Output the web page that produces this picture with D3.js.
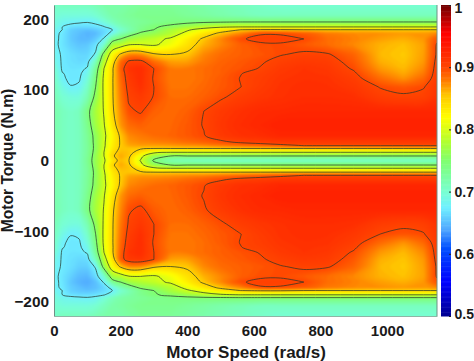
<!DOCTYPE html>
<html>
<head>
<meta charset="utf-8">
<script src="https://cdn.jsdelivr.net/npm/d3@7"></script>
<style>
body { margin: 0; background: white; }
text { font-family: "Liberation Sans", Arial, sans-serif; font-weight: bold; fill: #1a1a1a; }
</style>
</head>
<body>
<svg id="chart" width="474" height="361"></svg>
<script>
const speeds = [0,25,50,75,100,125,150,175,200,225,260,300,350,400,450,500,560,620,680,750,820,900,980,1050,1110,1150]
const torquesUpper = [220,205,196,189,185,180,172,164,150,140,130,123,116,104,90,70,50,35,26,21,17,11.6,6.4,0]
const torquesLower = [-6.4,-11,-16.5,-21,-26,-35,-50,-70,-90,-104,-116,-123,-130,-140,-150,-164,-172,-180,-184,-190,-194,-205,-220]

// efficiency in %, one row per torque
const effUpper = [
  [70.5,71,71,71,71,71.5,72,72,72,72.5,73,73,73,72.5,72,71.5,71,70.5,70,70,70,70,70,70,70,70],
  [70,69.5,69.5,69.5,69.5,70,71,72,72.5,73,73.5,73.5,73.5,73,72.5,72,71.5,71,71,71,71,71,71,71,71,71],
  [69.5,68.5,68,67.8,67.6,68,69.5,71,72,72.5,73,73.5,74,74.3,74.6,74.8,75,75,75,75,75,75,75,75,75,75],
  [69.5,67.5,66.8,66.5,66.5,66.8,67.3,69,71,72,73.5,74.7,75.7,77,78.5,79.5,80,80,80,80,80,80,80,80,80,80],
  [68.5,67.5,66,65.5,65.3,65.7,66.5,67.5,70,71.5,73.5,75,77.5,79.5,81.5,83.5,85,85.3,85.3,85,85,85,85,85,85,85],
  [68,67.2,65.8,65.2,64.6,65,66.3,68.3,71.3,73,75.5,76.3,78,81,83.5,85.5,87.5,89.8,89.8,89.2,88,87.5,87.3,87,87,87.5],
  [68,67.1,65.7,65,64.8,65.7,67.8,73,75,77,78,79,80.5,83,85.5,87.5,89.8,90.5,90.5,90,88.5,87.7,86.8,86.3,87,89.5],
  [68,67,66,65.4,65.6,66.8,69.8,77.3,78.2,79.8,80,79.5,81.3,83.8,86.2,87.5,89,89.7,89.8,89.3,88.5,87.5,86.2,85.7,86.7,90.2],
  [68.5,67.2,66.7,66.3,66.3,67.8,76.5,82,85.5,87.5,87.5,85.5,85,85.5,87.5,88.5,89,89.4,89.9,90.3,90.2,88.8,86,85.4,86.8,90.3],
  [69,67.2,66.8,66.5,66.8,71,78.5,83.5,88.5,90.3,90.5,88.5,86.8,86.8,88,88.8,89.3,89.8,90.5,91,90.8,89.3,86.3,85.6,87,90.6],
  [70,67.2,67,67,67.7,73,80,84.6,89,91.5,92,90,88,88,88.5,89,89.5,90.1,91,91.5,91.2,89.8,87,86,87.5,90.8],
  [70.5,67.6,67.1,67.1,68.5,73.7,80.4,84.6,88.8,91.2,92,89.9,88,88,88.5,89,89.95,90.5,91.2,91.6,91.4,90.3,87.7,86.5,88,90.9],
  [70.8,67.8,67.1,67.2,69.3,74.2,80.7,84.7,88.6,91,92,89.8,88,88,88.5,89.2,90.05,90.7,91.4,91.7,91.6,90.7,88.5,87.2,88.7,91],
  [71.2,69,67.6,67.9,70.4,75,80.7,84.7,88.3,90.7,91.7,90,88.2,88.2,88.7,89.3,89.97,90.9,91.6,91.9,91.8,91.2,89.9,89.4,89.9,91.2],
  [71.5,70,69.5,69.5,71.5,76,80.5,84.7,88,90.3,91,89.9,88.5,88.5,89,89.7,90.7,91.3,91.7,92,92,91.8,90.7,90.3,90.5,91.5],
  [72,71,70.5,71,74,77.5,80.2,84.5,87.5,89.7,90.2,89,88.5,89,90,91,91.7,92.2,92.3,92.5,92.5,92.5,92.5,92.5,92.5,92.5],
  [72,71,70.5,71,73.5,77,79.8,83.5,87,88.5,89,88.5,88.7,89.3,90.1,91.3,92,92.5,93,93,93,93,93,93,93,93],
  [72,71,70.5,71,73,76,79.3,82.5,85.5,87.5,88,88.5,88.8,89.3,89.9,91,91.7,92,92.5,92.5,92.5,92.5,92.5,92.5,92.5,92.5],
  [72,71,70.5,71,72.9,75.9,79.5,82.7,85.3,87,87.5,87.7,88,88.5,89,89.6,90.3,90.7,91,91,91,91,91,91,91,91],
  [72,71,70.5,71,72.8,75.8,79.5,83,85.3,86.5,86.8,86.8,87,87.3,87.5,88,88.5,89,89.5,90,90,90,90,90,90,90],
  [72,71,70.5,71,72.8,75.8,79.7,83.3,85.5,85.5,85.2,85,85,85,85,85,85,85,85,85,85,85,85,85,85,85],
  [72,71,70.5,71,72.9,76,80,84,86,85.7,84,80.8,80,80,80,80,80,80,80,80,80,80,80,80,80,80],
  [72,71,70.5,71,73,76.3,80,84.5,86.5,85.5,81,76.5,75,75,75,75,75,75,75,75,75,75,75,75,75,75],
  [72,71,70.5,71,73.2,76.5,79.5,83.5,86,85,79.8,74.5,71.5,70.8,70.5,70.3,70.3,70.3,70.3,70.3,70.3,70.3,70.3,70.3,70.3,70.3]
]

const effLower = [
  [72,71,70.5,71,73,76.3,80,84.5,86.5,85.5,81,76.5,75,75,75,75,75,75,75,75,75,75,75,75,75,75],
  [72,71,70.5,71,72.9,76,80,84,86,85.7,84,80.8,80,80,80,80,80,80,80,80,80,80,80,80,80,80],
  [72,71,70.5,71,72.8,75.8,79.7,83.3,85.5,85.5,85.2,85,85,85,85,85,85,85,85,85,85,85,85,85,85,85],
  [72,71,70.5,71,72.8,75.8,79.5,83,85.3,86.5,86.8,86.8,87,87.3,87.5,88,88.5,89,89.5,90,90,90,90,90,90,90],
  [72,71,70.5,71,72.9,75.9,79.5,82.7,85.3,87,87.5,87.7,88,88.5,89,89.6,90.3,90.7,91,91,91,91,91,91,91,91],
  [72,71,70.5,71,73,76,79.3,82.5,85.5,87.5,88,88.5,88.8,89.3,89.9,91,91.7,92,92.5,92.5,92.5,92.5,92.5,92.5,92.5,92.5],
  [72,71,70.5,71,73.5,77,79.8,83.5,87,88.5,89,88.5,88.7,89.3,90.1,91.3,92,92.5,93,93,93,93,93,93,93,93],
  [72,71,70.5,71,74,77.5,80.2,84.5,87.5,89.8,90.4,89.2,88.5,89,89.8,90.8,91.7,92.2,92.3,92.5,92.5,92.5,92.5,92.5,92.5,92.5],
  [71.5,70,69.5,69.5,71.5,76,80.5,84.7,88,90.3,91.2,90,88.5,88.5,89,89.7,90.7,91.3,91.7,92,92,91.8,90.8,90.4,90.6,91.5],
  [71.2,69,67.6,67.9,70.4,75,80.7,84.7,88.3,90.7,91.8,90,88.2,88.2,88.7,89.3,89.97,90.9,91.6,91.9,91.8,91.2,90,89.5,89.9,91.2],
  [70.8,67.8,67.1,67.2,69.3,74.2,80.7,84.7,88.6,91,92,89.8,88,88,88.5,89.2,90.05,90.7,91.4,91.7,91.6,90.7,88.6,87.2,88.7,91],
  [70.5,67.6,67.1,67.1,68.5,73.7,80.4,84.6,88.8,91.2,92,89.9,88,88,88.5,89,89.95,90.5,91.2,91.6,91.4,90.3,87.7,86.5,88,90.9],
  [70,67.2,67,67,67.7,73,80,84.6,89,91.5,92,90,88,88,88.5,89,89.5,90.1,91,91.5,91.2,89.8,87,86,87.5,90.8],
  [69,67.2,66.8,66.4,66.6,71,78.5,83.5,89.2,91,91.3,90,86.8,86.8,88,88.8,89.3,89.8,90.5,91,90.8,89.3,86.3,85.6,87,90.6],
  [68.5,67.2,66.7,66,66,67.8,76.5,82,85.5,87.5,87.5,85.5,85,85.5,87.5,88.5,89,89.4,89.9,90.3,90.2,88.8,86,85.4,86.8,90.3],
  [68,67,66,65,64.8,66.5,69.8,77.3,78.2,79.8,80,79.5,81.3,83.8,86.2,87.5,89,89.7,89.8,89.3,88.5,87.5,86.2,85.7,86.7,90.2],
  [68,67.1,65.6,64.6,64.2,65.2,67.8,73,75,77,78,79,80.5,83,85.5,87.5,89.8,90.5,90.5,90,88.5,87.7,86.8,86.3,87,89.5],
  [68,67.2,65.9,65.3,64.8,65.2,66.3,68.3,71.3,73,75.5,76.3,78,81,83.5,85.5,87.5,89.8,89.8,89.2,88,87.5,87.3,87,87,87.5],
  [68.5,67.5,66,65.5,65.3,65.7,66.5,67.5,70,71.5,73.5,75,77.5,79.5,81.5,83.5,85,85.3,85.3,85,85,85,85,85,85,85],
  [69.5,67.5,66.8,66.5,66.5,66.8,67.3,69,71,72,73.5,74.7,75.7,77,78.5,79.5,80,80,80,80,80,80,80,80,80,80],
  [69.5,68.5,68,67.8,67.6,68,69.5,71,72,72.5,73,73.5,74,74.3,74.6,74.8,75,75,75,75,75,75,75,75,75,75],
  [70,69.5,69.5,69.5,69.5,70,71,72,72.5,73,73.5,73.5,73.5,73,72.5,72,71.5,71,71,71,71,71,71,71,71,71],
  [70.5,71,71,71,71,71.5,72,72,72,72.5,73,73,73,72.5,72,71.5,71,70.5,70,70,70,70,70,70,70,70]
]

const contourLevels = [67.5,75,80,85,90]
const xTicks = [0,200,400,600,800,1000]
const yTicks = [-200,-100,0,100,200]
const barTicks = [0.5,0.6,0.7,0.8,0.9,1]
const colorValues = [0.50,0.555,0.61,0.64,0.675,0.70,0.75,0.78,0.82,0.855,0.88,0.90,0.93,0.955,0.975,1.0]
const colorNames = ["#000090","#0000ff","#0050ff","#50a8ff","#70f0ff","#78ffd2","#80ff70","#b0ff30","#ffff00","#ffc800","#ff7800","#ff4600","#ff2000","#ff0000","#c00000","#700000"]

var svg = d3.select("#chart")

var plot = {left: 54, right: 437, top: 5, bottom: 316}

var x = d3.scaleLinear().domain([0, 1150]).range([plot.left, plot.right])
var y = d3.scaleLinear().domain([-220, 220]).range([plot.bottom, plot.top])
var colour = d3.scaleLinear().domain(colorValues).range(colorNames).clamp(true)

var rowTorques = torquesUpper.concat(torquesLower)
var rows = effUpper.concat(effLower)

// repeat the outer samples so contours close outside the plot box
var padX = [-30].concat(speeds, [1180])
var padY = [260].concat(rowTorques, [-260])
var padRows = [rows[0]].concat(rows, [rows[rows.length - 1]]).map(r => [r[0]].concat(r, [r[r.length - 1]]))
var nx = padX.length
var ny = padY.length
var values = padRows.flat()

var gridX = d3.scaleLinear().domain(padX.map((d, i) => i + 0.5)).range(padX)
var gridY = d3.scaleLinear().domain(padY.map((d, i) => i + 0.5)).range(padY)

var contours = d3.contours().size([nx, ny]).smooth(true)

var ringLine = d3.line()
  .x(d => x(gridX(d[0])))
  .y(d => y(gridY(d[1])))
  .curve(d3.curveCatmullRomClosed.alpha(0.5))

function ringPath(level) {
  var shape = contours.contour(values, level)
  return shape.coordinates.map(poly => poly.map(ring => ringLine(ring.slice(0, -1))).join("")).join("")
}

svg.append("clipPath").attr("id", "plotClip")
  .append("rect")
  .attr("x", plot.left).attr("y", plot.top)
  .attr("width", plot.right - plot.left).attr("height", plot.bottom - plot.top)

var map = svg.append("g").attr("clip-path", "url(#plotClip)")

var fills = map.append("g").style("filter", "blur(1px)")

fills.append("rect")
  .attr("x", plot.left - 10).attr("y", plot.top - 10)
  .attr("width", plot.right - plot.left + 20).attr("height", plot.bottom - plot.top + 20)
  .attr("fill", colour(0.64))

fills.selectAll("path")
  .data(d3.range(64, 95, 0.25))
  .join("path")
  .attr("d", d => ringPath(d))
  .attr("fill-rule", "evenodd")
  .attr("fill", d => colour((d + 0.125) / 100))

map.append("g").selectAll("path")
  .data(contourLevels)
  .join("path")
  .attr("d", d => ringPath(d))
  .attr("fill", "none")
  .attr("stroke", "#25352a")
  .attr("stroke-opacity", 0.8)
  .attr("stroke-width", 0.9)

var xAxis = d3.axisBottom(x).tickValues(xTicks).tickSize(0).tickPadding(9).tickFormat(d3.format("d"))
var yAxis = d3.axisLeft(y).tickValues(yTicks).tickSize(0).tickPadding(5)

var xg = svg.append("g").attr("transform", `translate(0,${plot.bottom})`).call(xAxis)
var yg = svg.append("g").attr("transform", `translate(${plot.left},0)`).call(yAxis)

xg.selectAll("text").style("font-size", "15px").style("font-family", null)
yg.selectAll("text").style("font-size", "15.4px").style("font-family", null)
xg.select(".domain").attr("stroke", "#8fb5a5")
yg.select(".domain").attr("stroke", "#6f8f85")

svg.append("line")
  .attr("x1", plot.right).attr("x2", plot.right)
  .attr("y1", plot.top).attr("y2", plot.bottom)
  .attr("stroke", "#6f8f85")

// colour bar
var bar = {left: 441, right: 451}
var barY = d3.scaleLinear().domain([0.5, 1]).range([plot.bottom, plot.top])

svg.append("g").selectAll("rect")
  .data(d3.range(0.5, 1, 0.002))
  .join("rect")
  .attr("x", bar.left)
  .attr("width", bar.right - bar.left)
  .attr("y", d => barY(d + 0.002))
  .attr("height", d => barY(d) - barY(d + 0.002) + 0.5)
  .attr("fill", d => colour(d + 0.001))

var barAxis = d3.axisRight(barY).tickValues(barTicks).tickSize(-2).tickPadding(5.5)
  .tickFormat(d => d === 1 ? "1" : d3.format(".1f")(d))

var barG = svg.append("g").attr("transform", `translate(${bar.right},0)`).call(barAxis)
barG.select(".domain").remove()
barG.selectAll("line").attr("stroke", "#222")
barG.selectAll("text").style("font-size", "14px").style("font-family", null).attr("x", 3.5)
barG.selectAll("text").filter(d => d === 0.5 || d === 1).attr("dy", d => d === 1 ? "0.5em" : "0.2em")

svg.append("text")
  .attr("x", 246)
  .attr("y", 358)
  .attr("text-anchor", "middle")
  .style("font-size", "17px")
  .text("Motor Speed (rad/s)")

svg.append("text")
  .attr("transform", `translate(13,160.5) rotate(-90)`)
  .attr("text-anchor", "middle")
  .style("font-size", "15.6px")
  .text("Motor Torque (N.m)")
</script>
</body>
</html>
